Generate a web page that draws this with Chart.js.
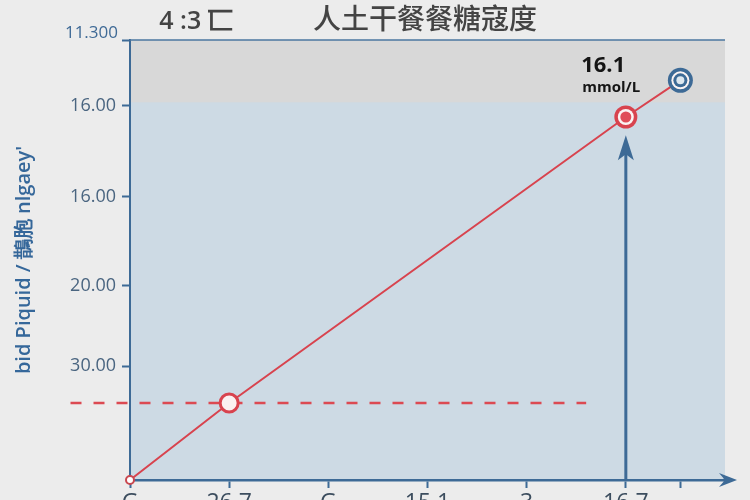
<!DOCTYPE html>
<html>
<head>
<meta charset="utf-8">
<script src="https://cdn.jsdelivr.net/npm/chart.js@4"></script>
<style>
  html, body { margin: 0; padding: 0; background: #ececec; overflow: hidden; }
  #wrap { width: 750px; height: 500px; overflow: hidden; }
</style>
</head>
<body>
<div id="wrap"><canvas id="chart" width="750" height="518"></canvas></div>
<script>
// values
const xTickValues = [0, 1, 2, 3, 4, 5, 5.55];
const xTickLabels = ['G', '26.7', 'G', '15.1', '3', '16.7', ''];
const yTickValues = [4.65, 7.95, 11.6, 15.3, 18];
const yTickLabels = ['30.00', '20.00', '16.00', '16.00', '11.300'];
const curveX = [0, 1, 5, 5.55];
const curveY = [0, 3.15, 14.85, 16.35];
const refLineX = [-0.6, 4.6];
const refLineY = [3.15, 3.15];
const arrowX = [5, 5];
const arrowY = [0, 14.1];
const bandFrom = 15.45;
const noteValue = '16.1';
const noteUnit = 'mmol/L';
const notePos = { x: 4.55, y: 16.95 };
const titleText = '人土干餐餐糖寇度';
const subText = '4 :3 匸';
const yTitle = 'bid Piquid / 鵲胞 nlgaey\'';

const BLUE = '#3d6a96';
const RED = '#d8434e';
const lastY = yTickLabels.length - 1;

const pts = (xs, ys) => xs.map((x, i) => ({ x: x, y: ys[i] }));

const decor = {
    id: 'decor',
    beforeDraw(chart) {
        const { ctx, chartArea: a, scales: { y } } = chart;
        ctx.save();
        ctx.fillStyle = '#ececec';
        ctx.fillRect(0, 0, chart.width, chart.height);
        ctx.fillStyle = '#cddae4';
        ctx.fillRect(a.left, a.top, a.right - a.left, a.bottom - a.top);
        const bandBottom = y.getPixelForValue(bandFrom);
        ctx.fillStyle = '#d8d8d8';
        ctx.fillRect(a.left, a.top, a.right - a.left, bandBottom - a.top);
        ctx.restore();
    },
    afterDraw(chart) {
        const { ctx, chartArea: a, scales: { x, y } } = chart;
        ctx.save();
        // top border
        ctx.strokeStyle = '#4b77a0';
        ctx.lineWidth = 1.5;
        ctx.beginPath();
        ctx.moveTo(a.left, a.top);
        ctx.lineTo(a.right, a.top);
        ctx.stroke();
        // x axis extension with arrow
        ctx.strokeStyle = BLUE;
        ctx.fillStyle = BLUE;
        ctx.lineWidth = 2.5;
        ctx.beginPath();
        ctx.moveTo(a.right - 2, a.bottom);
        ctx.lineTo(a.right + 6, a.bottom);
        ctx.stroke();
        const tx = a.right + 12;
        ctx.beginPath();
        ctx.moveTo(tx, a.bottom);
        ctx.lineTo(tx - 18, a.bottom - 7);
        ctx.lineTo(tx - 12, a.bottom);
        ctx.lineTo(tx - 18, a.bottom + 7);
        ctx.closePath();
        ctx.fill();
        // arrow head of vertical marker
        const ax = x.getPixelForValue(arrowX[1]);
        const ay = y.getPixelForValue(arrowY[1]);
        ctx.beginPath();
        ctx.moveTo(ax, ay);
        ctx.lineTo(ax - 8, ay + 25);
        ctx.lineTo(ax, ay + 19);
        ctx.lineTo(ax + 8, ay + 25);
        ctx.closePath();
        ctx.fill();
        // top tick label sits a little above its tick
        ctx.fillStyle = '#3f6a96';
        ctx.textAlign = 'right';
        ctx.textBaseline = 'middle';
        ctx.font = '17px "Open Sans", sans-serif';
        ctx.fillText(yTickLabels[lastY], a.left - 12, y.getPixelForValue(yTickValues[lastY]) - 7);
        // note
        const nx = x.getPixelForValue(notePos.x);
        const ny = y.getPixelForValue(notePos.y);
        ctx.fillStyle = '#151515';
        ctx.textAlign = 'left';
        ctx.font = 'bold 22px "Open Sans", sans-serif';
        ctx.fillText(noteValue, nx, ny);
        ctx.font = 'bold 15px "Open Sans", sans-serif';
        ctx.fillText(noteUnit, nx + 1, ny + 22);
        // titles
        ctx.fillStyle = '#444';
        ctx.textAlign = 'center';
        ctx.font = '500 28px "Noto Sans CJK SC", sans-serif';
        ctx.fillText(titleText, 425, 18);
        ctx.font = '600 25px "Open Sans", sans-serif';
        ctx.fillText(subText, 196, 22);
        ctx.restore();
    }
};

new Chart(document.getElementById('chart'), {
    type: 'scatter',
    data: {
        datasets: [
            {
                data: pts(curveX.slice(3), curveY.slice(3)),
                pointRadius: 4, pointBackgroundColor: '#dde7ef', pointBorderWidth: 0,
                order: 0
            },
            {
                data: pts(curveX.slice(2), curveY.slice(2)),
                pointRadius: [5.5, 7], pointBackgroundColor: ['#e04d58', BLUE], pointBorderWidth: 0,
                order: 1
            },
            {
                data: pts(curveX.slice(2), curveY.slice(2)),
                pointRadius: [8, 9], pointBackgroundColor: '#fbf3f3', pointBorderWidth: 0,
                order: 2
            },
            {
                data: pts(curveX, curveY),
                showLine: true,
                borderColor: RED,
                borderWidth: 2,
                pointRadius: [4, 9, 11.5, 12.5],
                pointBackgroundColor: ['#ffffff', '#fbf1f1', RED, BLUE],
                pointBorderColor: ['#c9474f', RED, RED, BLUE],
                pointBorderWidth: [2, 3, 0, 0],
                clip: false,
                order: 3
            },
            {
                data: pts(arrowX, [arrowY[0], arrowY[1] - 0.6]),
                showLine: true,
                borderColor: BLUE,
                borderWidth: 3,
                pointRadius: 0,
                order: 4
            },
            {
                data: pts(refLineX, refLineY),
                showLine: true,
                borderColor: '#dc4a52',
                borderWidth: 2.5,
                borderDash: [11, 12],
                pointRadius: 0,
                clip: false,
                order: 5
            }
        ]
    },
    options: {
        responsive: false,
        animation: false,
        layout: { padding: { top: 40, right: 25, left: 0, bottom: 0 } },
        plugins: { legend: { display: false }, tooltip: { enabled: false } },
        scales: {
            x: {
                type: 'linear', min: 0, max: 6,
                afterFit: (scale) => { scale.height = 38; },
                afterBuildTicks: (scale) => { scale.ticks = xTickValues.map(v => ({ value: v })); },
                border: { color: BLUE, width: 2.5 },
                grid: { drawOnChartArea: false, tickLength: 8, tickColor: BLUE, tickWidth: 2 },
                ticks: {
                    padding: 2,
                    autoSkip: false,
                    maxRotation: 0,
                    color: '#3c4d5e',
                    font: { family: '"Open Sans", sans-serif', size: 23 },
                    callback: (v, i) => xTickLabels[i]
                }
            },
            y: {
                type: 'linear', min: 0, max: 18,
                afterFit: (scale) => { scale.width = 130; },
                afterBuildTicks: (scale) => { scale.ticks = yTickValues.map(v => ({ value: v })); },
                border: { color: BLUE, width: 2 },
                grid: { drawOnChartArea: false, tickLength: 8, tickColor: BLUE, tickWidth: 2 },
                title: {
                    display: true,
                    text: yTitle,
                    color: '#35679a',
                    padding: { top: 12, bottom: 4 },
                    font: { family: '"Open Sans", sans-serif', size: 20, weight: '600' }
                },
                ticks: {
                    padding: 6,
                    autoSkip: false,
                    color: '#4a6580',
                    font: { family: '"Open Sans", sans-serif', size: 18 },
                    callback: (v, i) => i === lastY ? '' : yTickLabels[i]
                }
            }
        }
    },
    plugins: [decor]
});
</script>
</body>
</html>
